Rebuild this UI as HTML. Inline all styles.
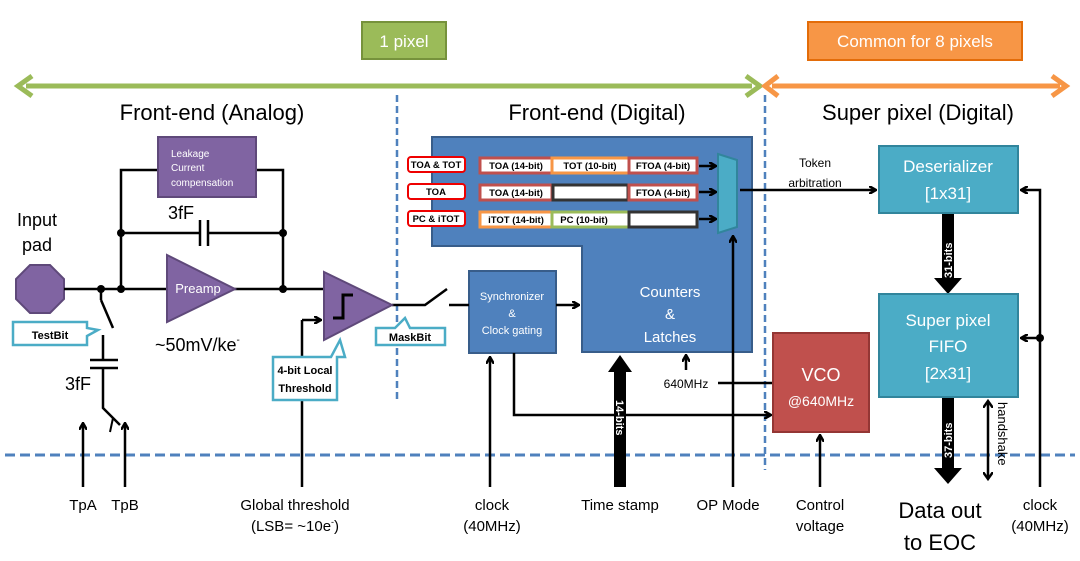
<!DOCTYPE html>
<html><head><meta charset="utf-8"><style>
html,body{margin:0;padding:0;background:#fff;}
svg{display:block;font-family:"Liberation Sans",sans-serif;}
</style></head><body>
<svg width="1080" height="561" viewBox="0 0 1080 561" xmlns="http://www.w3.org/2000/svg">
<defs>
<marker id="ah" markerWidth="8" markerHeight="8" refX="6" refY="4" orient="auto" markerUnits="userSpaceOnUse"><path d="M0,0 L7,4 L0,8" fill="none" stroke="#000" stroke-width="2.5"/></marker>
<marker id="ahs" markerWidth="10" markerHeight="10" refX="6" refY="5" orient="auto-start-reverse" markerUnits="userSpaceOnUse"><path d="M0,0 L7,5 L0,10" fill="none" stroke="#000" stroke-width="2.5"/></marker>
</defs>
<!-- top labels -->
<rect x="362" y="22" width="84" height="37" fill="#9bbb59" stroke="#76923c" stroke-width="2"/>
<text x="404" y="47" font-size="17" fill="#fff" text-anchor="middle">1 pixel</text>
<rect x="808" y="22" width="214" height="38" fill="#f79646" stroke="#e36c09" stroke-width="2"/>
<text x="915" y="47" font-size="17" fill="#fff" text-anchor="middle">Common for 8 pixels</text>
<!-- arrows -->
<line x1="26" y1="86" x2="752" y2="86" stroke="#9bbb59" stroke-width="5"/>
<path d="M32,76 L18,86 L32,96" fill="none" stroke="#9bbb59" stroke-width="5"/>
<path d="M746,76 L760,86 L746,96" fill="none" stroke="#9bbb59" stroke-width="5"/>
<line x1="772" y1="86" x2="1060" y2="86" stroke="#f79646" stroke-width="5"/>
<path d="M778,76 L765,86 L778,96" fill="none" stroke="#f79646" stroke-width="5"/>
<path d="M1052,76 L1066,86 L1052,96" fill="none" stroke="#f79646" stroke-width="5"/>
<text x="212" y="120" font-size="22" text-anchor="middle">Front-end (Analog)</text>
<text x="597" y="120" font-size="22" text-anchor="middle">Front-end (Digital)</text>
<text x="918" y="120" font-size="22" text-anchor="middle">Super pixel (Digital)</text>
<!-- dashed lines -->
<line x1="397" y1="95" x2="397" y2="400" stroke="#4f81bd" stroke-width="2.5" stroke-dasharray="7,4"/>
<line x1="765" y1="95" x2="765" y2="470" stroke="#4f81bd" stroke-width="2.5" stroke-dasharray="7,4"/>
<line x1="5" y1="455" x2="1075" y2="455" stroke="#4f81bd" stroke-width="3" stroke-dasharray="10,5"/>

<!-- Digital block -->
<path d="M432,137 H752 V352 H582 V246 H432 Z" fill="#4f81bd" stroke="#385d8a" stroke-width="2"/>
<g font-size="9.5" font-weight="bold" text-anchor="middle">
<rect x="408" y="157" width="57" height="15" rx="3" fill="#fff" stroke="#e00" stroke-width="2"/><text x="436" y="168">TOA &amp; TOT</text>
<rect x="408" y="184" width="57" height="15" rx="3" fill="#fff" stroke="#e00" stroke-width="2"/><text x="436" y="195">TOA</text>
<rect x="408" y="211" width="57" height="15" rx="3" fill="#fff" stroke="#e00" stroke-width="2"/><text x="436" y="222">PC &amp; iTOT</text>
<rect x="480" y="158" width="72" height="15" fill="#fff" stroke="#c0504d" stroke-width="3"/><text x="516" y="169">TOA (14-bit)</text>
<rect x="552" y="158" width="77" height="15" fill="#fff" stroke="#f79646" stroke-width="3"/><text x="590" y="169">TOT (10-bit)</text>
<rect x="629" y="158" width="68" height="15" fill="#fff" stroke="#c0504d" stroke-width="3"/><text x="663" y="169">FTOA (4-bit)</text>
<rect x="480" y="185" width="72" height="15" fill="#fff" stroke="#c0504d" stroke-width="3"/><text x="516" y="196">TOA (14-bit)</text>
<rect x="553" y="185" width="75" height="15" fill="#fff" stroke="#333" stroke-width="3"/>
<rect x="629" y="185" width="68" height="15" fill="#fff" stroke="#c0504d" stroke-width="3"/><text x="663" y="196">FTOA (4-bit)</text>
<rect x="480" y="212" width="72" height="15" fill="#fff" stroke="#f79646" stroke-width="3"/><text x="516" y="223">iTOT (14-bit)</text>
<rect x="552" y="212" width="77" height="15" fill="#fff" stroke="#9bbb59" stroke-width="3"/><text x="584" y="223">PC (10-bit)</text>
<rect x="629" y="212" width="68" height="15" fill="#fff" stroke="#333" stroke-width="3"/>
</g>
<line x1="699" y1="166" x2="715" y2="166" stroke="#000" stroke-width="2.5" marker-end="url(#ah)"/>
<line x1="699" y1="192" x2="715" y2="192" stroke="#000" stroke-width="2.5" marker-end="url(#ah)"/>
<line x1="699" y1="219" x2="715" y2="219" stroke="#000" stroke-width="2.5" marker-end="url(#ah)"/>
<path d="M718,154 L737,160 L737,227 L718,233 Z" fill="#4bacc6" stroke="#31859c" stroke-width="2"/>
<text x="670" y="297" font-size="15" fill="#fff" text-anchor="middle">Counters</text>
<text x="670" y="319" font-size="15" fill="#fff" text-anchor="middle">&amp;</text>
<text x="670" y="342" font-size="15" fill="#fff" text-anchor="middle">Latches</text>
<rect x="469" y="271" width="87" height="82" fill="#4f81bd" stroke="#385d8a" stroke-width="2"/>
<text x="512" y="300" font-size="11" fill="#fff" text-anchor="middle">Synchronizer</text>
<text x="512" y="317" font-size="11" fill="#fff" text-anchor="middle">&amp;</text>
<text x="512" y="334" font-size="11" fill="#fff" text-anchor="middle">Clock gating</text>
<line x1="556" y1="305" x2="578" y2="305" stroke="#000" stroke-width="2.5" marker-end="url(#ah)"/>

<!-- Analog -->
<polygon points="30,265 50,265 64,279 64,299 50,313 30,313 16,299 16,279" fill="#8064a2" stroke="#5f497a" stroke-width="2"/>
<text x="37" y="226" font-size="18" text-anchor="middle">Input</text>
<text x="37" y="251" font-size="18" text-anchor="middle">pad</text>
<g stroke="#000" stroke-width="2.5" fill="none">
<line x1="64" y1="289" x2="170" y2="289"/>
<line x1="233" y1="289" x2="325" y2="289"/>
<path d="M121,289 V170 H158 M256,170 H283 V289"/>
<path d="M121,233 H200 M208,233 H283"/>
<line x1="200" y1="220" x2="200" y2="246"/><line x1="208" y1="220" x2="208" y2="246"/>
<path d="M101,289 V300 M101,300 L113,328"/>
<path d="M103,335 V360 M90,360 H118 M90,368 H118 M103,368 V408 L120,425"/>
<line x1="302" y1="487" x2="302" y2="320"/>
<path d="M302,320 H320" marker-end="url(#ah)"/>
<path d="M392,305 H425 L447,289 M449,305 H469"/>
</g>
<circle cx="101" cy="289" r="4"/><circle cx="121" cy="289" r="4"/><circle cx="121" cy="233" r="4"/><circle cx="283" cy="233" r="4"/><circle cx="283" cy="289" r="4"/>
<rect x="158" y="137" width="98" height="60" fill="#8064a2" stroke="#5f497a" stroke-width="2"/>
<text x="171" y="157" font-size="10" fill="#fff">Leakage</text>
<text x="171" y="171" font-size="10" fill="#fff">Current</text>
<text x="171" y="186" font-size="10" fill="#fff">compensation</text>
<text x="168" y="219" font-size="18">3fF</text>
<polygon points="167,255 235,289 167,322" fill="#8064a2" stroke="#5f497a" stroke-width="2"/>
<text x="198" y="293" font-size="13" fill="#fff" text-anchor="middle">Preamp</text>
<text x="155" y="351" font-size="18">~50mV/ke<tspan font-size="10" dy="-8">-</tspan></text>
<polygon points="324,272 392,305 324,340" fill="#8064a2" stroke="#5f497a" stroke-width="2"/>
<path d="M333,318 H343 V295 H353" fill="none" stroke="#000" stroke-width="3"/>
<text x="65" y="390" font-size="18">3fF</text>
<path d="M113,418 L110,432" stroke="#000" stroke-width="2"/>
<!-- callouts -->
<path d="M13,322 H87 V328 L98,330 L87,336 V345 H13 Z" fill="#fff" stroke="#4bacc6" stroke-width="2.5"/>
<text x="50" y="339" font-size="11" font-weight="bold" text-anchor="middle">TestBit</text>
<path d="M376,328 H395 L405,318 L410,328 H445 V345 H376 Z" fill="#fff" stroke="#4bacc6" stroke-width="2.5"/>
<text x="410" y="341" font-size="11" font-weight="bold" text-anchor="middle">MaskBit</text>
<path d="M273,357 H331 L340,340 L345,357 H337 V400 H273 Z" fill="#fff" stroke="#4bacc6" stroke-width="2.5"/>
<text x="305" y="374" font-size="11" font-weight="bold" text-anchor="middle">4-bit Local</text>
<text x="305" y="392" font-size="11" font-weight="bold" text-anchor="middle">Threshold</text>

<!-- bottom arrows -->
<g stroke="#000" stroke-width="2.5" fill="none">
<line x1="83" y1="487" x2="83" y2="424" marker-end="url(#ah)"/>
<line x1="125" y1="487" x2="125" y2="424" marker-end="url(#ah)"/>
<line x1="490" y1="487" x2="490" y2="358" marker-end="url(#ah)"/>
<path d="M514,353 V415 H770" marker-end="url(#ah)"/>
<line x1="733" y1="487" x2="733" y2="237" marker-end="url(#ah)"/>
<line x1="718" y1="383" x2="773" y2="383"/>
<line x1="686" y1="370" x2="686" y2="356" marker-end="url(#ah)"/>
<line x1="820" y1="487" x2="820" y2="436" marker-end="url(#ah)"/>
<line x1="740" y1="190" x2="875" y2="190" marker-end="url(#ah)"/>
<path d="M1040,487 V190 H1022" marker-end="url(#ah)"/>
<path d="M1040,338 H1022" marker-end="url(#ah)"/>
<line x1="988" y1="402" x2="988" y2="478" marker-start="url(#ahs)" marker-end="url(#ahs)"/>
</g>
<circle cx="1040" cy="338" r="4"/>
<!-- thick arrows -->
<path d="M614,487 V372 H608 L620,355 L632,372 H626 V487 Z" fill="#000"/>
<text x="0" y="0" font-size="11" font-weight="bold" fill="#fff" transform="translate(616,400) rotate(90)">14-bits</text>
<path d="M942,213 V278 H934 L948,294 L962,278 H954 V213 Z" fill="#000"/>
<text x="0" y="0" font-size="11" font-weight="bold" fill="#fff" transform="translate(952,278) rotate(-90)">31-bits</text>
<path d="M942,397 V468 H934 L948,484 L962,468 H954 V397 Z" fill="#000"/>
<text x="0" y="0" font-size="11" font-weight="bold" fill="#fff" transform="translate(952,458) rotate(-90)">37-bits</text>
<text x="0" y="0" font-size="13" transform="translate(998,402) rotate(90)">handshake</text>

<!-- Super pixel blocks -->
<rect x="773" y="333" width="96" height="99" fill="#c0504d" stroke="#943634" stroke-width="2"/>
<text x="821" y="381" font-size="18" fill="#fff" text-anchor="middle">VCO</text>
<text x="821" y="406" font-size="14" fill="#fff" text-anchor="middle">@640MHz</text>
<rect x="879" y="146" width="139" height="67" fill="#4bacc6" stroke="#31859c" stroke-width="2"/>
<text x="948" y="172" font-size="17" fill="#fff" text-anchor="middle">Deserializer</text>
<text x="948" y="199" font-size="17" fill="#fff" text-anchor="middle">[1x31]</text>
<rect x="879" y="294" width="139" height="103" fill="#4bacc6" stroke="#31859c" stroke-width="2"/>
<text x="948" y="326" font-size="17" fill="#fff" text-anchor="middle">Super pixel</text>
<text x="948" y="352" font-size="17" fill="#fff" text-anchor="middle">FIFO</text>
<text x="948" y="379" font-size="17" fill="#fff" text-anchor="middle">[2x31]</text>

<!-- labels -->
<g font-size="15" text-anchor="middle">
<text x="815" y="167" font-size="12">Token</text>
<text x="815" y="187" font-size="12">arbitration</text>
<text x="686" y="388" font-size="12">640MHz</text>
<text x="83" y="510">TpA</text><text x="125" y="510">TpB</text>
<text x="295" y="510">Global threshold</text>
<text x="295" y="531">(LSB= ~10e<tspan font-size="9" dy="-6">-</tspan><tspan dy="6">)</tspan></text>
<text x="492" y="510">clock</text><text x="492" y="531">(40MHz)</text>
<text x="620" y="510">Time stamp</text>
<text x="728" y="510">OP Mode</text>
<text x="820" y="510">Control</text><text x="820" y="531">voltage</text>
<text x="1040" y="510">clock</text><text x="1040" y="531">(40MHz)</text>
<text x="940" y="518" font-size="22">Data out</text>
<text x="940" y="550" font-size="22">to EOC</text>
</g>
</svg>
</body></html>
